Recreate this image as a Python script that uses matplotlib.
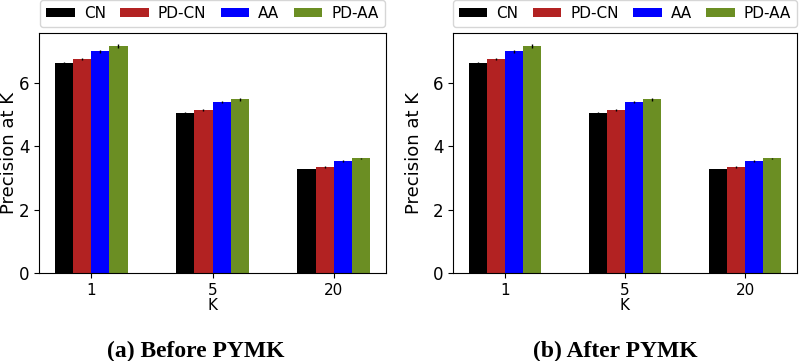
import numpy as np
import matplotlib
matplotlib.use('Agg')
import matplotlib.pyplot as plt

k_labels = ['1', '5', '20']
methods = ['CN', 'PD-CN', 'AA', 'PD-AA']
colors = ['black', '#b22222', 'blue', '#6b8e23']

before_vals = {
    'CN': [6.62, 5.04, 3.27],
    'PD-CN': [6.75, 5.14, 3.34],
    'AA': [7.00, 5.39, 3.53],
    'PD-AA': [7.16, 5.48, 3.62],
}
before_err = {
    'CN': [0.04, 0.03, 0.02],
    'PD-CN': [0.04, 0.03, 0.02],
    'AA': [0.05, 0.03, 0.02],
    'PD-AA': [0.05, 0.04, 0.02],
}
after_vals = {
    'CN': [6.62, 5.04, 3.27],
    'PD-CN': [6.75, 5.14, 3.34],
    'AA': [7.00, 5.39, 3.53],
    'PD-AA': [7.16, 5.48, 3.62],
}
after_err = {
    'CN': [0.04, 0.03, 0.02],
    'PD-CN': [0.04, 0.03, 0.02],
    'AA': [0.05, 0.03, 0.02],
    'PD-AA': [0.05, 0.04, 0.02],
}
captions = ['(a) Before PYMK', '(b) After PYMK']

fig = plt.figure(figsize=(8.04, 3.61), dpi=100)
ax_a = fig.add_axes([39 / 804, 88 / 361, 347 / 804, 240 / 361])
ax_b = fig.add_axes([453 / 804, 88 / 361, 344 / 804, 240 / 361])

width = 0.15
x = np.arange(len(k_labels))

panels = [
    (ax_a, before_vals, before_err, captions[0], -0.06, 196),
    (ax_b, after_vals, after_err, captions[1], -0.087, 615),
]
for ax, vals, errs, cap, ylab_x, cap_x in panels:
    for i, m in enumerate(methods):
        ax.bar(x + (i - 1.5) * width, vals[m], width, yerr=errs[m],
               color=colors[i], ecolor='black', error_kw=dict(elinewidth=1.0, capsize=0),
               label=m)
    ax.set_xticks(x)
    ax.set_xticklabels(k_labels, fontsize=11)
    ax.set_yticks([0, 2, 4, 6])
    ax.tick_params(axis='y', labelsize=12)
    ax.set_xlabel('K', fontsize=11, labelpad=0)
    ax.set_ylabel('Precision at K', fontsize=13)
    ax.yaxis.set_label_coords(ylab_x, 0.5)
    ax.legend(loc='lower center', bbox_to_anchor=(0.5, 1.025),
              ncol=4, borderaxespad=0, fontsize=11, handlelength=1.85,
              handleheight=0.6, columnspacing=0.95, handletextpad=0.6)
    fig.text(cap_x / 804, 0.026, cap, ha='center', va='center',
             fontsize=17, fontweight='bold', family='Liberation Serif')

fig.savefig('out.png', dpi=100)
